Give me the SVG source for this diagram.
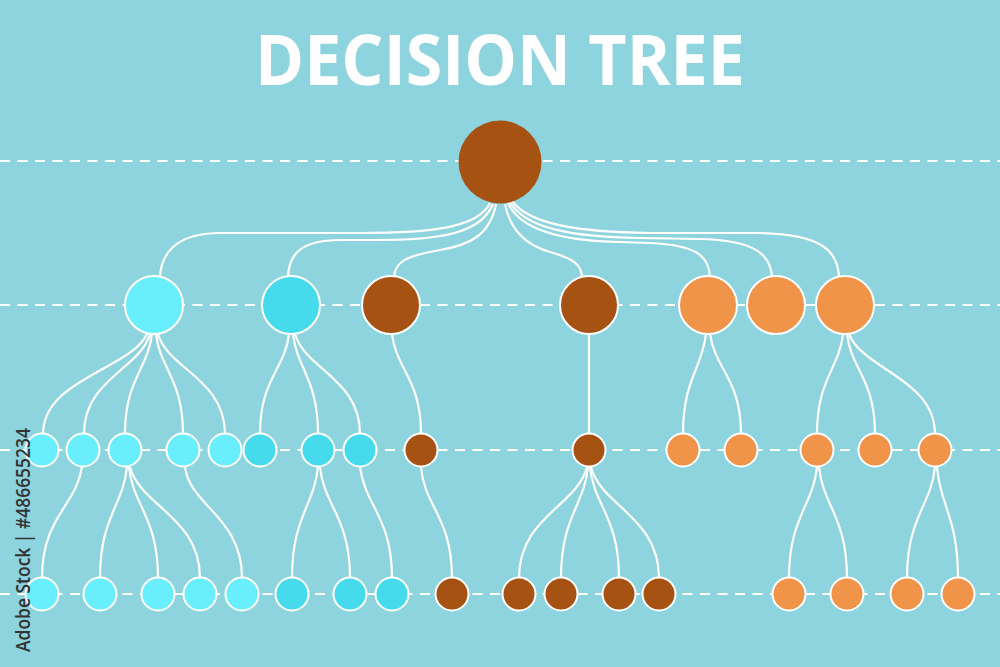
<svg xmlns="http://www.w3.org/2000/svg" width="1000" height="667" viewBox="0 0 1000 667">
<style>
.guide{stroke:#ffffff;stroke-width:2;stroke-dasharray:10 7.5;fill:none}
.edge{stroke:#ffffff;stroke-width:2.2;fill:none}
.n{stroke:#ffffff;stroke-width:2}
.lc{fill:#68EEFC}
.cy{fill:#46DBEC}
.br{fill:#A65213}
.or{fill:#F0944A}
.title{font-family:"Open Sans","Liberation Sans",sans-serif;font-weight:bold;font-size:70px;fill:#ffffff}
.credit{font-family:"Open Sans","Liberation Sans",sans-serif;font-size:19px;font-weight:600;fill:#333333}
</style>
<rect width="1000" height="667" fill="#8DD4DE"/>
<text class="title" x="500" y="85" text-anchor="middle" textLength="490" lengthAdjust="spacingAndGlyphs">DECISION TREE</text>
<g id="guides">
<line class="guide" x1="0" y1="161" x2="1000" y2="161"/>
<line class="guide" x1="0" y1="305" x2="1000" y2="305"/>
<line class="guide" x1="0" y1="450" x2="1000" y2="450"/>
<line class="guide" x1="0" y1="594" x2="1000" y2="594"/>
</g>
<g id="connectors">
<path class="edge" d="M490 203 C478 228 430 233 360 233 L220 233 C175 233 160 255 160 279"/>
<path class="edge" d="M493 204 C482 230 450 240 380 240 L340 240 C300 240 288 255 288 279"/>
<path class="edge" d="M496 204 C490 235 470 245 440 250 C405 256 394 262 394 279"/>
<path class="edge" d="M505 204 C510 230 525 245 550 252 C575 259 582 265 582 279"/>
<path class="edge" d="M508 203 C520 230 560 241 620 242 L650 243 C695 245 710 255 710 279"/>
<path class="edge" d="M510 202 C525 228 570 237 640 238 L700 239 C755 240 772 255 772 279"/>
<path class="edge" d="M512 201 C530 225 580 232 650 233 L760 233 C820 234 839 250 839 279"/>
<path class="edge" d="M147 334 C131 369 43 379 43 434"/>
<path class="edge" d="M150 334 C140 369 84 379 84 434"/>
<path class="edge" d="M152 334 C148 369 125 379 125 434"/>
<path class="edge" d="M156 334 C160 369 183 379 183 434"/>
<path class="edge" d="M158 334 C168 369 225 379 225 434"/>
<path class="edge" d="M289 334 C285 369 260 379 260 434"/>
<path class="edge" d="M293 334 C297 369 318 379 318 434"/>
<path class="edge" d="M295 334 C305 369 360 379 360 434"/>
<path class="edge" d="M392 334 C396 369 421 379 421 434"/>
<path class="edge" d="M589 334 L589 434"/>
<path class="edge" d="M706 334 C702 369 683 379 683 434"/>
<path class="edge" d="M710 334 C715 369 741 379 741 434"/>
<path class="edge" d="M843 334 C839 369 817 379 817 434"/>
<path class="edge" d="M847 334 C851 369 875 379 875 434"/>
<path class="edge" d="M849 334 C862 369 935 379 935 434"/>
<path class="edge" d="M82 467 C76 506 42 517 42 578"/>
<path class="edge" d="M127 467 C123 506 100 517 100 578"/>
<path class="edge" d="M129 467 C133 506 158 517 158 578"/>
<path class="edge" d="M130 467 C140 506 200 517 200 578"/>
<path class="edge" d="M185 467 C190 506 242 517 242 578"/>
<path class="edge" d="M318 467 C314 506 292 517 292 578"/>
<path class="edge" d="M320 467 C324 506 350 517 350 578"/>
<path class="edge" d="M360 467 C365 506 392 517 392 578"/>
<path class="edge" d="M421 467 C424 506 452 517 452 578"/>
<path class="edge" d="M587 467 C577 506 519 517 519 578"/>
<path class="edge" d="M588 467 C584 506 561 517 561 578"/>
<path class="edge" d="M590 467 C594 506 619 517 619 578"/>
<path class="edge" d="M591 467 C601 506 659 517 659 578"/>
<path class="edge" d="M817 467 C813 506 789 517 789 578"/>
<path class="edge" d="M819 467 C823 506 847 517 847 578"/>
<path class="edge" d="M935 467 C931 506 907 517 907 578"/>
<path class="edge" d="M937 467 C940 506 958 517 958 578"/>
</g>
<g id="root"><circle class="br" cx="500" cy="162" r="41.5"/></g>
<g id="l1">
<g id="n1a"><circle class="n lc" cx="154" cy="305" r="29"/></g>
<g id="n1b"><circle class="n cy" cx="291" cy="305" r="29"/></g>
<g id="n1c"><circle class="n br" cx="391" cy="305" r="29"/></g>
<g id="n1d"><circle class="n br" cx="589" cy="305" r="29"/></g>
<g id="n1e"><circle class="n or" cx="708" cy="305" r="29"/></g>
<g id="n1f"><circle class="n or" cx="776" cy="305" r="29"/></g>
<g id="n1g"><circle class="n or" cx="845" cy="305" r="29"/></g>
</g>
<g id="l2">
<g id="n2a"><circle class="n lc" cx="42" cy="450" r="16.5"/></g>
<g id="n2b"><circle class="n lc" cx="83" cy="450" r="16.5"/></g>
<g id="n2c"><circle class="n lc" cx="125" cy="450" r="16.5"/></g>
<g id="n2d"><circle class="n lc" cx="183" cy="450" r="16.5"/></g>
<g id="n2e"><circle class="n lc" cx="225" cy="450" r="16.5"/></g>
<g id="n2f"><circle class="n cy" cx="260" cy="450" r="16.5"/></g>
<g id="n2g"><circle class="n cy" cx="318" cy="450" r="16.5"/></g>
<g id="n2h"><circle class="n cy" cx="360" cy="450" r="16.5"/></g>
<g id="n2i"><circle class="n br" cx="421" cy="450" r="16.5"/></g>
<g id="n2j"><circle class="n br" cx="589" cy="450" r="16.5"/></g>
<g id="n2k"><circle class="n or" cx="683" cy="450" r="16.5"/></g>
<g id="n2l"><circle class="n or" cx="741" cy="450" r="16.5"/></g>
<g id="n2m"><circle class="n or" cx="817" cy="450" r="16.5"/></g>
<g id="n2n"><circle class="n or" cx="875" cy="450" r="16.5"/></g>
<g id="n2o"><circle class="n or" cx="935" cy="450" r="16.5"/></g>
</g>
<g id="l3">
<g id="n3a"><circle class="n lc" cx="42" cy="594" r="16.5"/></g>
<g id="n3b"><circle class="n lc" cx="100" cy="594" r="16.5"/></g>
<g id="n3c"><circle class="n lc" cx="158" cy="594" r="16.5"/></g>
<g id="n3d"><circle class="n lc" cx="200" cy="594" r="16.5"/></g>
<g id="n3e"><circle class="n lc" cx="242" cy="594" r="16.5"/></g>
<g id="n3f"><circle class="n cy" cx="292" cy="594" r="16.5"/></g>
<g id="n3g"><circle class="n cy" cx="350" cy="594" r="16.5"/></g>
<g id="n3h"><circle class="n cy" cx="392" cy="594" r="16.5"/></g>
<g id="n3i"><circle class="n br" cx="452" cy="594" r="16.5"/></g>
<g id="n3j"><circle class="n br" cx="519" cy="594" r="16.5"/></g>
<g id="n3k"><circle class="n br" cx="561" cy="594" r="16.5"/></g>
<g id="n3l"><circle class="n br" cx="619" cy="594" r="16.5"/></g>
<g id="n3m"><circle class="n br" cx="659" cy="594" r="16.5"/></g>
<g id="n3n"><circle class="n or" cx="789" cy="594" r="16.5"/></g>
<g id="n3o"><circle class="n or" cx="847" cy="594" r="16.5"/></g>
<g id="n3p"><circle class="n or" cx="907" cy="594" r="16.5"/></g>
<g id="n3q"><circle class="n or" cx="958" cy="594" r="16.5"/></g>
</g>
<text class="credit" transform="translate(30 652) rotate(-90)" textLength="224" lengthAdjust="spacingAndGlyphs">Adobe Stock | #486655234</text>
</svg>
